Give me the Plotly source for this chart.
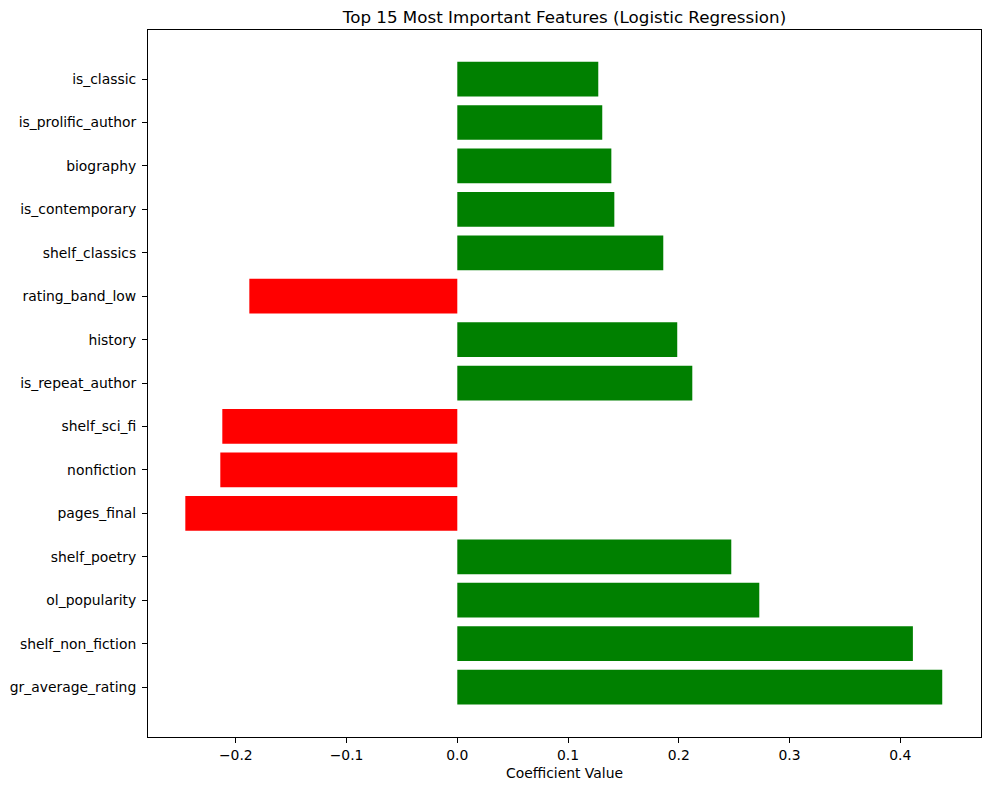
import plotly.graph_objects as go

features = [
    "gr_average_rating", "shelf_non_fiction", "ol_popularity", "shelf_poetry",
    "pages_final", "nonfiction", "shelf_sci_fi", "is_repeat_author", "history",
    "rating_band_low", "shelf_classics", "is_contemporary", "biography",
    "is_prolific_author", "is_classic",
]
coefficients = [
    0.4379, 0.4114, 0.2727, 0.2474,
    -0.2456, -0.2140, -0.2122, 0.2122, 0.1986,
    -0.1878, 0.1860, 0.1418, 0.1391,
    0.1309, 0.1273,
]
x_ticks = [-0.2, -0.1, 0.0, 0.1, 0.2, 0.3, 0.4]
x_tick_labels = ["\u22120.2", "\u22120.1", "0.0", "0.1", "0.2", "0.3", "0.4"]

FONT = "DejaVu Sans"
colors = ["#008000" if c > 0 else "#ff0000" for c in coefficients]

fig = go.Figure(
    go.Bar(
        x=coefficients,
        y=list(range(len(features))),
        orientation="h",
        marker=dict(color=colors, line=dict(width=0)),
        width=0.8,
    )
)

axis_style = dict(
    showline=True,
    mirror=True,
    linecolor="black",
    linewidth=1,
    showgrid=False,
    zeroline=False,
    automargin=False,
    ticks="outside",
    ticklen=5,
    tickwidth=1,
    tickcolor="black",
    tickfont=dict(family=FONT, size=13.9, color="black"),
)

# page body has an 8px margin, so the figure is a bit smaller than the window
fig.update_layout(
    width=982,
    height=782,
    paper_bgcolor="white",
    plot_bgcolor="white",
    margin=dict(l=140, r=9, t=22, b=53),
    showlegend=False,
    title=dict(
        text="Top 15 Most Important Features (Logistic Regression)",
        font=dict(family=FONT, size=16.7, color="black"),
        x=0.5, xref="paper", xanchor="center",
        y=1 - 9 / 782, yref="container", yanchor="middle",
        automargin=False,
    ),
    xaxis=dict(
        axis_style,
        range=[-0.2793, 0.4729],
        tickvals=x_ticks,
        ticktext=x_tick_labels,
        title=dict(text="Coefficient Value", font=dict(family=FONT, size=13.9, color="black"), standoff=6),
    ),
    yaxis=dict(
        axis_style,
        range=[-1.15, 15.13],
        tickvals=list(range(len(features))),
        ticktext=features,
        ticklabelstandoff=3,
    ),
)

fig.write_html("out.html")
